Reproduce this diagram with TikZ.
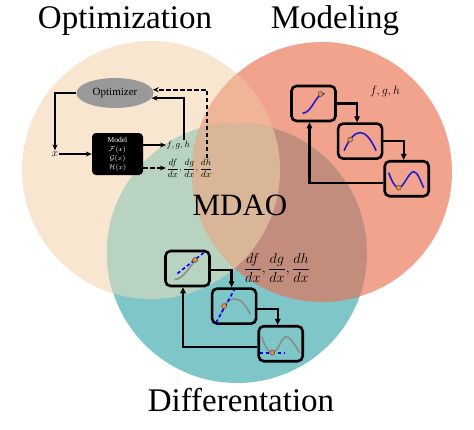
\documentclass[tikz,border=0pt]{standalone}
\usepackage{fontspec}
\setmainfont{Liberation Serif}
\usepackage{amsmath}
\usetikzlibrary{arrows.meta,positioning,shapes.geometric}

\definecolor{optcol}{HTML}{F8E6D0}
\definecolor{modcol}{HTML}{F2A38E}
\definecolor{difcol}{HTML}{7FC6C8}
\definecolor{optmod}{HTML}{EFB596}
\definecolor{optdif}{HTML}{B9D3C1}
\definecolor{moddif}{HTML}{C28D7C}
\definecolor{allcol}{HTML}{DAB698}
\definecolor{dotcol}{HTML}{E8903A}
\definecolor{crvblue}{HTML}{1E1ED2}

\begin{document}
\begin{tikzpicture}[
  x=1pt, y=-1pt,
  title/.style={font=\fontsize{33}{36}\selectfont, inner sep=0pt},
  panel/.style={draw, line width=2.6pt, rounded corners=5pt, minimum width=44pt, minimum height=35pt, inner sep=0pt},
  cycarr/.style={-{Triangle[length=6pt,width=5.5pt]}, line width=2.4pt},
  optarr/.style={-{Stealth[length=6pt,width=5pt]}, line width=1.7pt},
  fcurve/.style={line width=1.6pt, crvblue},
  gcurve/.style={line width=1.6pt, black!45},
  tline/.style={line width=1.6pt, blue, dash pattern=on 3.5pt off 2.5pt},
  hit/.style={circle, fill=dotcol, draw=black!70, line width=0.5pt, inner sep=0pt, minimum size=5pt}]
  \useasboundingbox (0,0) rectangle (474,429);

  % three circles and their overlaps
  \fill[optcol] (151,170) circle[radius=129pt];
  \fill[modcol] (322,172) circle[radius=130pt];
  \fill[difcol] (237,253) circle[radius=130pt];
  \begin{scope}
    \clip (151,170) circle[radius=129pt];
    \fill[optmod] (322,172) circle[radius=130pt];
    \fill[optdif] (237,253) circle[radius=130pt];
  \end{scope}
  \begin{scope}
    \clip (322,172) circle[radius=130pt];
    \fill[moddif] (237,253) circle[radius=130pt];
  \end{scope}
  \begin{scope}
    \clip (151,170) circle[radius=129pt];
    \clip (322,172) circle[radius=130pt];
    \fill[allcol] (237,253) circle[radius=130pt];
  \end{scope}

  \node[title] (toptim) at (125,21) {Optimization};
  \node[title] (tmodel) at (335,21) {Modeling};
  \node[title] (tdiff) at (241,400) {Differentation};
  \node[title, font=\fontsize{31}{34}\selectfont] (mdao) at (240,205) {MDAO};

  % optimization loop
  \node[ellipse, fill=black!40, minimum width=77pt, minimum height=30pt, inner sep=0pt,
    font=\fontsize{11}{12}\selectfont] (opt) at (115,93) {Optimizer};
  \node[fill=black, text=white, rounded corners=4pt, minimum width=51pt, minimum height=42pt,
    inner sep=1pt, align=center, font=\fontsize{7.5}{9}\selectfont] (model) at (117.5,154)
    {Model\\$\mathcal{F}(x)$\\$\mathcal{G}(x)$\\$\mathcal{H}(x)$};
  \node[font=\fontsize{11}{12}\selectfont, inner sep=1pt] (xin) at (55,154) {$x$};
  \node[font=\fontsize{9.5}{10}\selectfont, anchor=west, inner sep=0.5pt] (fgh1) at (166,145) {$f,g,h$};
  \node[font=\fontsize{9.5}{10}\selectfont, anchor=west, inner sep=0.5pt] (dfs1) at (166,168)
    {$\dfrac{df}{dx},\dfrac{dg}{dx},\dfrac{dh}{dx}$};
  \draw[optarr] (opt.west) -| (xin.north);
  \draw[optarr] (xin) -- (model);
  \draw[optarr] (model.east |- fgh1.west) -- (fgh1.west);
  \draw[optarr] ([xshift=6pt]fgh1.north) |- (opt.-8);
  \draw[optarr, dash pattern=on 4.5pt off 2.5pt] (model.east |- dfs1.west) -- (dfs1.west);
  \draw[optarr, dash pattern=on 4.5pt off 2.5pt] ([xshift=-6pt]dfs1.north east) |- (opt.5);

  % modeling cycle
  \node[panel] (m1) at (313.5,103.5) {};
  \node[panel, below right=0pt and 0pt of m1] (m2) {};
  \node[panel, below right=0pt and 0pt of m2] (m3) {};
  \node[font=\fontsize{13}{14}\selectfont] (fgh2) at (385,91) {$f,g,h$};
  \draw[cycarr] (m1.east) -| ([xshift=-3pt]m2.north);
  \draw[cycarr] (m2.east) -| ([xshift=-3pt]m3.north);
  \draw[cycarr] ([yshift=-4pt]m3.west) -| ([xshift=-4pt]m1.south);
  \begin{scope}[shift={(m1.center)}]
    \draw[fcurve] (-11,10) .. controls (0,8) and (1,-9) .. (11,-10);
    \node[hit] at (7,-9.5) {};
  \end{scope}
  \begin{scope}[shift={(m2.center)}]
    \draw[fcurve] (-16,9.5) .. controls (-5.3,-14.5) and (5.3,-14.5) .. (16,9.5);
    \node[hit] at (-10,-1.5) {};
  \end{scope}
  \begin{scope}[shift={(m3.center)}]
    \draw[fcurve] (-18,-6) .. controls (-15,2) and (-12,9) .. (-8,9)
      .. controls (-3,9) and (2,-7) .. (7,-7) .. controls (11,-7) and (14,3) .. (17,9);
    \node[hit] at (-8,9) {};
  \end{scope}

  % differentiation cycle
  \node[panel] (d1) at (187.5,268.5) {};
  \node[panel, below right=0pt and 0pt of d1] (d2) {};
  \node[panel, below right=0pt and 0pt of d2] (d3) {};
  \node[font=\fontsize{14}{15}\selectfont] (dfs2) at (277,268)
    {$\dfrac{df}{dx},\dfrac{dg}{dx},\dfrac{dh}{dx}$};
  \draw[cycarr] ([yshift=-1.5pt]d1.east) -| ([xshift=-2.5pt]d2.north);
  \draw[cycarr] ([yshift=-3pt]d2.east) -| ([xshift=-3pt]d3.north);
  \draw[cycarr] ([yshift=-3pt]d3.west) -| ([xshift=-4.5pt]d1.south);
  \begin{scope}[shift={(d1.center)}]
    \draw[gcurve] (-13,11) .. controls (-4,11) and (3,-4) .. (10,-10);
    \draw[tline] (-10,5) -- (16.5,-16);
    \node[hit] at (7.5,-8.5) {};
  \end{scope}
  \begin{scope}[shift={(d2.center)}]
    \draw[gcurve] (-14,10) .. controls (-8,-10) and (5,-15) .. (16,8);
    \draw[tline] (-18,16.5) -- (0,-16);
    \node[hit] at (-10,0) {};
  \end{scope}
  \begin{scope}[shift={(d3.center)}]
    \draw[gcurve] (-19,-7) .. controls (-16,2) and (-12,9) .. (-8.5,9)
      .. controls (-3,9) and (1,-7) .. (5.5,-7) .. controls (10,-7) and (15,3) .. (19,9);
    \draw[tline] (-21,9) -- (3.5,9);
    \node[hit] at (-8.5,9) {};
  \end{scope}
\end{tikzpicture}
\end{document}
